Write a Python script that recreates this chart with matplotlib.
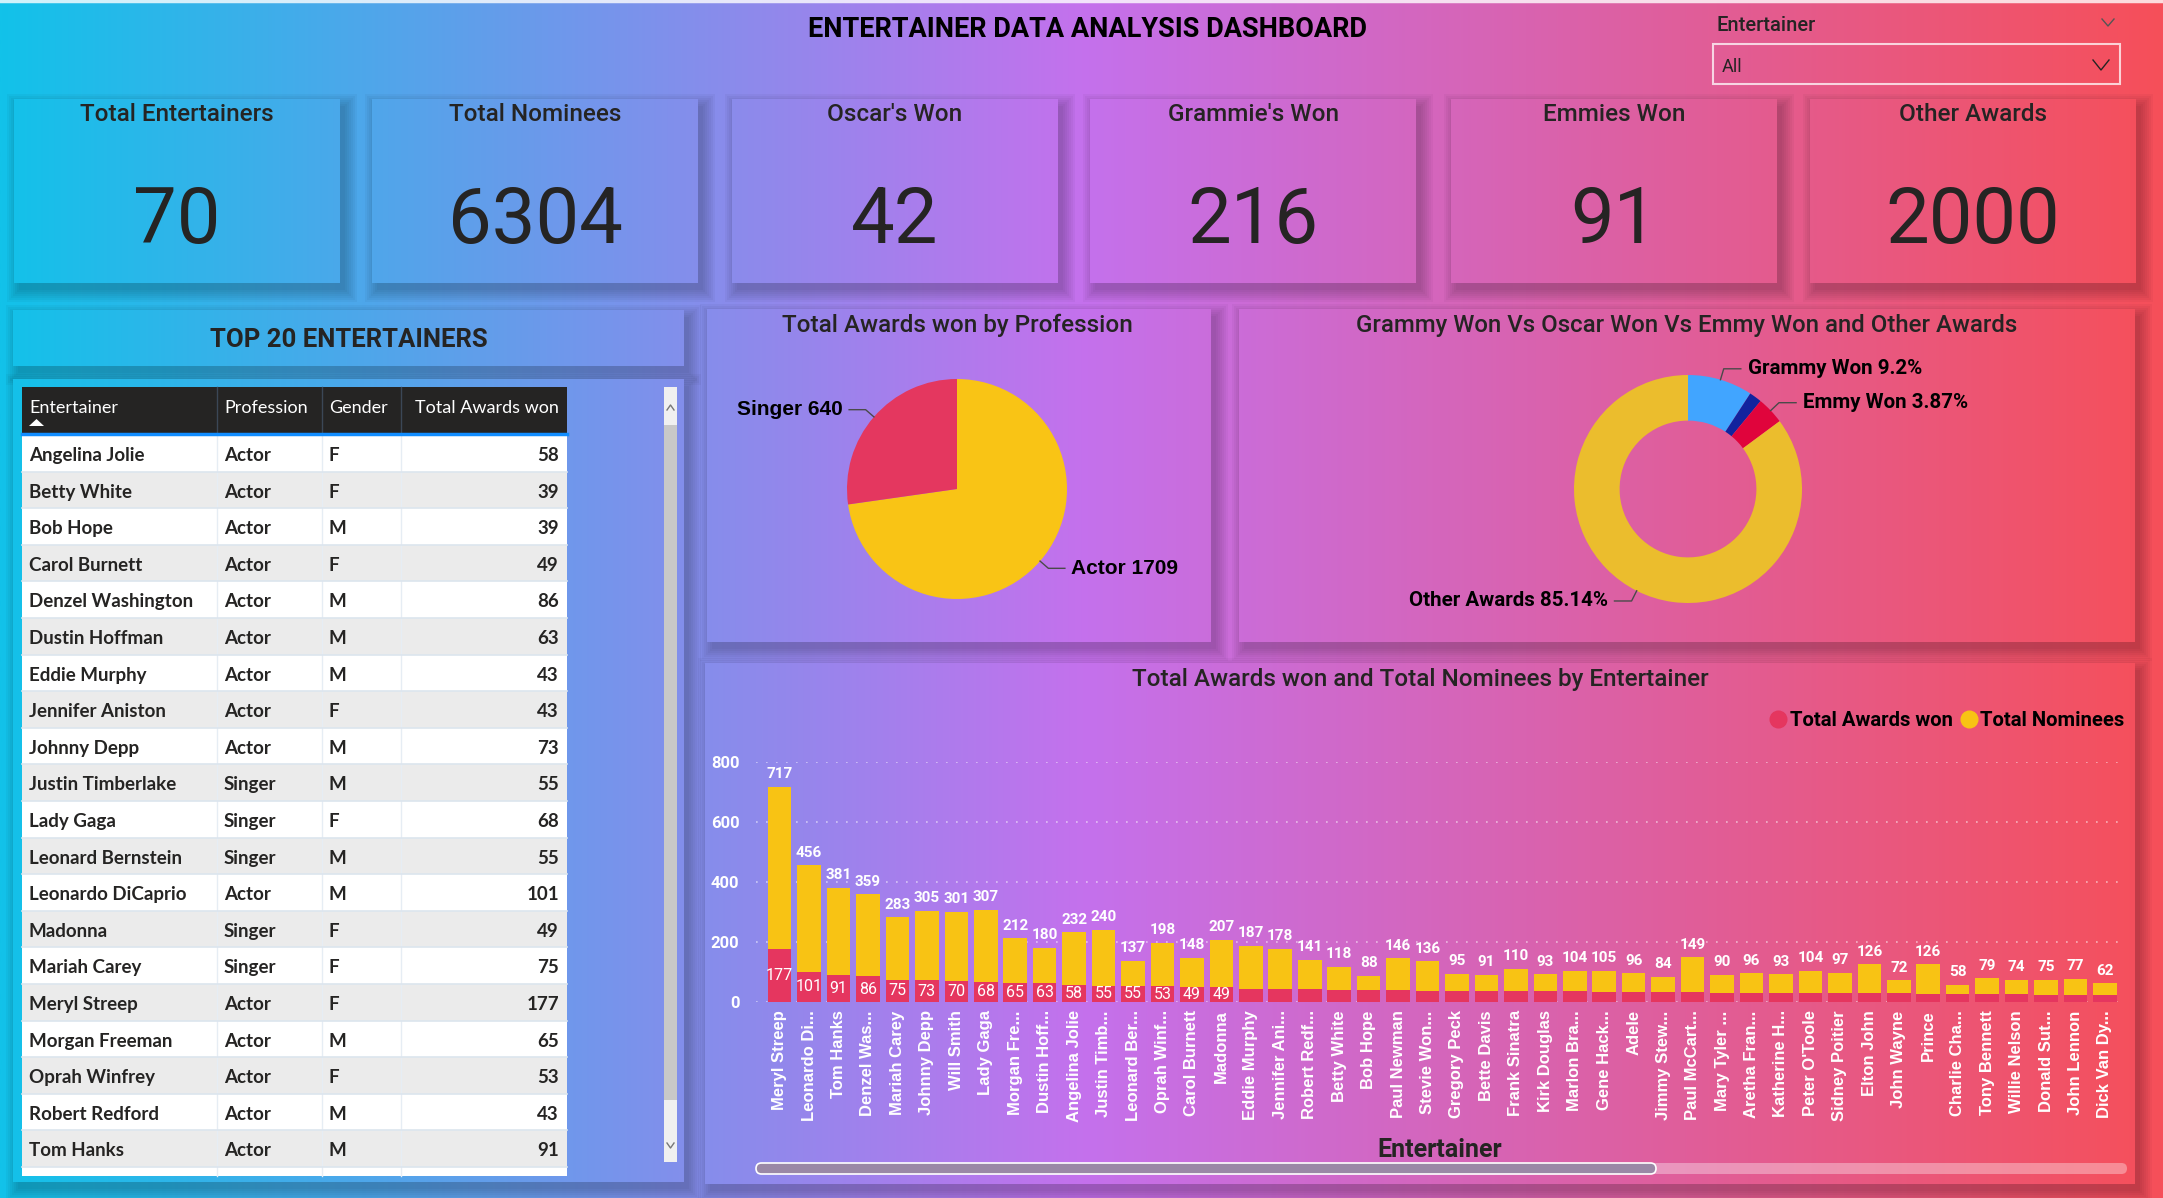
import numpy as np
import matplotlib.pyplot as plt
from matplotlib.patches import Rectangle, FancyBboxPatch, Polygon
from matplotlib.lines import Line2D

W, H = 2163, 1198
dark = "#252423"
yellow = "#F8C314"
red = "#E5365F"

plt.rcParams['font.family'] = ['Roboto', 'DejaVu Sans']
body_font = ['Lato', 'DejaVu Sans']
bold_font = ['Liberation Sans', 'DejaVu Sans']

# ---------------- data ----------------
kpi_titles = ["Total Entertainers", "Total Nominees", "Oscar's Won", "Grammie's Won", "Emmies Won", "Other Awards"]
kpi_values = [70, 6304, 42, 216, 91, 2000]

table_names = ["Angelina Jolie", "Betty White", "Bob Hope", "Carol Burnett", "Denzel Washington",
               "Dustin Hoffman", "Eddie Murphy", "Jennifer Aniston", "Johnny Depp", "Justin Timberlake",
               "Lady Gaga", "Leonard Bernstein", "Leonardo DiCaprio", "Madonna", "Mariah Carey",
               "Meryl Streep", "Morgan Freeman", "Oprah Winfrey", "Robert Redford", "Tom Hanks"]
table_profession = ["Actor", "Actor", "Actor", "Actor", "Actor", "Actor", "Actor", "Actor", "Actor", "Singer",
                    "Singer", "Singer", "Actor", "Singer", "Singer", "Actor", "Actor", "Actor", "Actor", "Actor"]
table_gender = ["F", "F", "M", "F", "M", "M", "M", "F", "M", "M",
                "F", "M", "M", "F", "F", "F", "M", "F", "M", "M"]
table_awards = [58, 39, 39, 49, 86, 63, 43, 43, 73, 55, 68, 55, 101, 49, 75, 177, 65, 53, 43, 91]
table_cols = ["Entertainer", "Profession", "Gender", "Total Awards won"]

professions = ["Actor", "Singer"]
profession_awards = [1709, 640]

award_types = ["Grammy Won", "Oscar Won", "Emmy Won", "Other Awards"]
award_counts = [216, 42, 91, 2000]

bar_names = ["Meryl Streep", "Leonardo Di...", "Tom Hanks", "Denzel Was...", "Mariah Carey", "Johnny Depp",
             "Will Smith", "Lady Gaga", "Morgan Fre...", "Dustin Hoff...", "Angelina Jolie", "Justin Timb...",
             "Leonard Ber...", "Oprah Winf...", "Carol Burnett", "Madonna", "Eddie Murphy", "Jennifer Ani...",
             "Robert Redf...", "Betty White", "Bob Hope", "Paul Newman", "Stevie Won...", "Gregory Peck",
             "Bette Davis", "Frank Sinatra", "Kirk Douglas", "Marlon Bra...", "Gene Hack...", "Adele",
             "Jimmy Stew...", "Paul McCart...", "Mary Tyler ...", "Aretha Fran...", "Katherine H...",
             "Peter O'Toole", "Sidney Poitier", "Elton John", "John Wayne", "Prince", "Charlie Cha...",
             "Tony Bennett", "Willie Nelson", "Donald Sut...", "John Lennon", "Dick Van Dy..."]
bar_nominees = [717, 456, 381, 359, 283, 305, 301, 307, 212, 180, 232, 240, 137, 198, 148, 207, 187, 178,
                141, 118, 88, 146, 136, 95, 91, 110, 93, 104, 105, 96, 84, 149, 90, 96, 93, 104, 97, 126,
                72, 126, 58, 79, 74, 75, 77, 62]
bar_awards = [177, 101, 91, 86, 75, 73, 70, 68, 65, 63, 58, 55, 55, 53, 49, 49, 43, 43, 43, 39, 39, 39, 38,
              37, 36, 36, 36, 36, 33, 33, 32, 32, 31, 31, 30, 30, 30, 30, 30, 28, 27, 26, 26, 23, 23, 22]


# ---------------- helpers ----------------
stops = np.array([[0x12, 0xC2, 0xE9], [0xC4, 0x71, 0xED], [0xF6, 0x4F, 0x59]]) / 255


def grad(x0, x1, n=300):
    t = np.linspace(x0, x1, n) / W
    return np.dstack([np.interp(t, [0, 0.5, 1], stops[:, c]) for c in range(3)])


def px_rect(x0, y0, x1, y1):
    return [x0 / W, 1 - y1 / H, (x1 - x0) / W, (y1 - y0) / H]


def panel(x0, y0, x1, y1):
    for s in range(0, 14, 2):
        bg.add_patch(Rectangle((x0 + 5 - s, y0 + 7 - s), x1 - x0 + 2 * s, y1 - y0 + 2 * s,
                               fc='black', ec='none', alpha=0.03, zorder=1))
    bg.imshow(grad(x0, x1), extent=(x0, x1, y1, y0), aspect='auto', zorder=2, interpolation='bilinear')


def leader_labels(ax, values, labels, size, font, min_share=0.0):
    total = sum(values)
    cum = 0
    for v, lab in zip(values, labels):
        mid = np.deg2rad(90 - 360 * (cum + v / 2) / total)
        cum += v
        if v / total < min_share:
            continue
        x, y = np.cos(mid), np.sin(mid)
        side = 1 if x >= 0 else -1
        ex, ey = 1.1 * x, 1.1 * y
        ax.plot([x, ex, ex + side * 0.15], [y, ey, ey], color='#4a4a4a', lw=1, clip_on=False)
        ax.text(ex + side * 0.21, ey, lab, ha='left' if side > 0 else 'right', va='center',
                fontsize=size, fontweight='bold', color='black', family=font, clip_on=False)


# ---------------- figure + background ----------------
fig = plt.figure(figsize=(W / 100, H / 100), dpi=100)
bg = fig.add_axes([0, 0, 1, 1])
bg.axis('off')
bg.imshow(grad(0, W, 600), extent=(0, W, H, 0), aspect='auto', zorder=0, interpolation='bilinear')
bg.plot([0, W], [1, 1], color='white', lw=2.5, alpha=0.8, zorder=1)

bg.text(1088, 37, "ENTERTAINER DATA ANALYSIS DASHBOARD", ha='center', va='baseline',
        fontsize=19.5, fontweight='bold', color='black', zorder=5)

# slicer
bg.text(1717, 31, "Entertainer", ha='left', va='baseline', fontsize=14.5, fontweight='medium', color=dark, zorder=5)
bg.plot([2102, 2108, 2114], [19, 26, 19], color='#555555', lw=1, zorder=5)
bg.add_patch(Rectangle((1713, 44), 407, 40, fc='none', ec='white', lw=1.5, alpha=0.75, zorder=5))
bg.text(1722, 72, "All", ha='left', va='baseline', fontsize=13, color=dark, zorder=5)
bg.plot([2093, 2101, 2109], [60, 70, 60], color=dark, lw=1, zorder=5)

# KPI cards
card_x = [14, 372, 732, 1090, 1451, 1810]
card_w = 326
for x0, t, v in zip(card_x, kpi_titles, kpi_values):
    panel(x0, 99, x0 + card_w, 283)
    bg.text(x0 + card_w / 2, 121, t, ha='center', va='baseline', fontsize=17.5, fontweight='medium',
            color=dark, zorder=5)
    bg.text(x0 + card_w / 2, 243, str(v), ha='center', va='baseline', fontsize=56, color=dark, zorder=5)

# ---------------- top 20 table ----------------
panel(13, 310, 684, 366)
bg.text(349, 347, "TOP 20 ENTERTAINERS", ha='center', va='baseline', fontsize=18.5, fontweight='bold',
        color=dark, zorder=5)
panel(13, 379, 684, 1182)

col_edges = [22, 217, 322, 401, 567]
head_top, head_bot = 387, 434
row_h = 36.6
bg.add_patch(Rectangle((col_edges[0], head_top), col_edges[-1] - col_edges[0], head_bot - head_top,
                       fc=dark, ec='none', zorder=3))
bg.add_patch(Rectangle((col_edges[0], head_bot), col_edges[-1] - col_edges[0], 1176 - head_bot,
                       fc='white', ec='none', zorder=3))
for i, c in enumerate(table_cols):
    if i == 3:
        bg.text(col_edges[4] - 8, 413, c, ha='right', va='baseline', fontsize=13, color='white',
                family=body_font, zorder=5)
    else:
        bg.text(col_edges[i] + 7, 413, c, ha='left', va='baseline', fontsize=13, color='white',
                family=body_font, zorder=5)
for xe in col_edges[1:-1]:
    bg.plot([xe, xe], [head_top, head_bot], color='#3b4756', lw=1, zorder=4)
    bg.plot([xe, xe], [head_bot, 1176], color='#e6edf4', lw=1, zorder=4)
bg.add_patch(Polygon([(29, 426), (44, 426), (36.5, 419)], closed=True, fc='white', ec='none', zorder=5))

for i, (n, p, g, a) in enumerate(zip(table_names, table_profession, table_gender, table_awards)):
    top = head_bot + 1 + i * row_h
    fc = 'white' if i % 2 == 0 else '#EBEBEB'
    bg.add_patch(Rectangle((col_edges[0], top), col_edges[-1] - col_edges[0], row_h, fc=fc, ec='none', zorder=3))
    bg.plot([col_edges[0], col_edges[-1]], [top + row_h, top + row_h], color='#dce5ee', lw=1.2, zorder=4)
    base = top + 26
    for k, s in enumerate([n, p, g]):
        bg.text(col_edges[k] + 7, base, s, ha='left', va='baseline', fontsize=13.5, fontweight='bold',
                color=dark, family=body_font, zorder=5)
    bg.text(col_edges[4] - 8, base, str(a), ha='right', va='baseline', fontsize=13.5, fontweight='bold',
            color=dark, family=body_font, zorder=5)
bg.plot([col_edges[0], col_edges[-1]], [head_bot, head_bot], color='#118DFF', lw=2.5, zorder=4)

# table scrollbar
bg.add_patch(Rectangle((664, 387), 13, 775, fc='#f0f0f0', ec='none', zorder=3))
bg.add_patch(Rectangle((664, 425), 13, 675, fc='#c8c8c8', ec='none', zorder=4))
bg.plot([667, 670.5, 674], [410, 405, 410], color='#777777', lw=1, zorder=5)
bg.plot([667, 670.5, 674], [1143, 1148, 1143], color='#777777', lw=1, zorder=5)

# ---------------- pie: awards by profession ----------------
panel(707, 309, 1211, 642)
bg.text(957, 332, "Total Awards won by Profession", ha='center', va='baseline', fontsize=17.5,
        fontweight='medium', color=dark, zorder=5)
pax = fig.add_axes(px_rect(847, 379, 1067, 599))
pax.pie(profession_awards, colors=["#F9C415", "#E4375F"], startangle=90, counterclock=False,
        radius=1, wedgeprops={'linewidth': 0})
pax.set_xlim(-1, 1)
pax.set_ylim(-1, 1)
leader_labels(pax, profession_awards, [f"{p} {v}" for p, v in zip(professions, profession_awards)],
              15, bold_font)

# ---------------- donut: award types ----------------
panel(1239, 309, 2135, 642)
bg.text(1687, 332, "Grammy Won Vs Oscar Won Vs Emmy Won and Other Awards", ha='center', va='baseline',
        fontsize=17.3, fontweight='medium', color=dark, zorder=5)
dax = fig.add_axes(px_rect(1574, 375, 1802, 603))
dax.pie(award_counts, colors=["#41A5FF", "#12239E", "#E0043C", "#EBBD2D"], startangle=90,
        counterclock=False, radius=1, wedgeprops={'width': 0.4, 'linewidth': 0})
dax.set_xlim(-1, 1)
dax.set_ylim(-1, 1)
tot = sum(award_counts)
donut_labels = [f"{t} " + f"{100 * v / tot:.2f}".rstrip('0').rstrip('.') + "%" for t, v in zip(award_types, award_counts)]
leader_labels(dax, award_counts, donut_labels, 14.8, ['Roboto', 'DejaVu Sans'], min_share=0.03)

# ---------------- bar chart ----------------
panel(705, 663, 2135, 1184)
bg.text(1420, 686, "Total Awards won and Total Nominees by Entertainer", ha='center', va='baseline',
        fontsize=17.5, fontweight='medium', color=dark, zorder=5)
handles = [Line2D([], [], marker='o', ls='none', markersize=12, color=c) for c in (red, yellow)]
bg.legend(handles, ["Total Awards won", "Total Nominees"], loc='center right', bbox_to_anchor=(2124, 721),
          bbox_transform=bg.transData, ncol=2, frameon=False, handletextpad=0.05, columnspacing=0.3,
          handlelength=1.0, borderaxespad=0, borderpad=0, prop={'size': 14.6, 'weight': 'bold'})

ax = fig.add_axes(px_rect(756, 762, 2125, 1002))
ax.patch.set_alpha(0)
xs = np.arange(len(bar_names))
ax.bar(xs, bar_nominees, width=0.8, color=yellow, zorder=3)
ax.bar(xs, bar_awards, width=0.8, color=red, zorder=4)
for x, n, a in zip(xs, bar_nominees, bar_awards):
    ax.annotate(str(n), (x, n), xytext=(0, 4), textcoords='offset points', ha='center', va='bottom',
                color='white', fontsize=11, fontweight='bold', zorder=6)
    if a >= 45:
        ax.text(x, a / 2, str(a), ha='center', va='center', color='white', fontsize=11.5, zorder=6)
ax.set_xlim(-0.8, len(xs) - 1 + 0.68)
ax.set_ylim(0, 800)
ax.set_yticks([0, 200, 400, 600, 800])
ax.tick_params(axis='y', length=0, pad=12, labelcolor='white', labelsize=12)
for lab in ax.get_yticklabels():
    lab.set_fontweight('bold')
ax.set_xticks(xs)
ax.set_xticklabels(bar_names, rotation=90, fontsize=12, fontweight='bold', color='white', family=bold_font)
ax.tick_params(axis='x', length=0, pad=6)
ax.grid(axis='y', color='white', alpha=0.55, linestyle=(0, (1, 5)), lw=1.2)
ax.set_axisbelow(True)
for s in ax.spines.values():
    s.set_visible(False)

bg.text(1440, 1157, "Entertainer", ha='center', va='baseline', fontsize=18, fontweight='bold',
        color=dark, zorder=5)
bg.add_patch(FancyBboxPatch((756, 1163), 1371, 11, boxstyle='round,pad=0,rounding_size=5.5',
                            fc='white', alpha=0.35, ec='none', zorder=3))
bg.add_patch(FancyBboxPatch((756, 1163), 900, 11, boxstyle='round,pad=0,rounding_size=5.5',
                            fc='#9a88a6', ec='white', lw=1.2, zorder=4))

bg.set_xlim(0, W)
bg.set_ylim(H, 0)
fig.savefig("out.png", dpi=100)
